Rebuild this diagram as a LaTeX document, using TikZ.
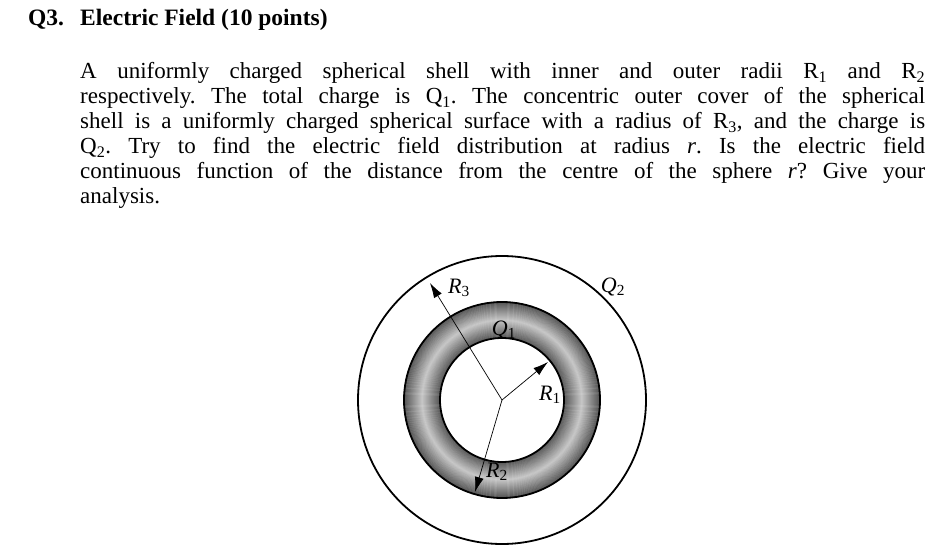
\documentclass[tikz,border=0pt]{standalone}
\usepackage{fontspec}
\setmainfont{Liberation Serif}
\usetikzlibrary{arrows.meta}
\newcommand{\jline}[1]{\makebox[845pt][s]{#1}\\}
\begin{document}
\frenchspacing
\begin{tikzpicture}[x=1pt,y=-1pt,
  lbl/.style={font=\fontsize{22}{22}\selectfont\itshape, inner sep=0pt},
  rad/.style={line width=0.7pt,-{Latex[length=15pt,width=9pt]}},
  circ/.style={line width=1.8pt}]
\useasboundingbox (0,0) rectangle (929,548);
\node[anchor=base west, inner sep=0pt, font=\fontsize{23.5}{24}\selectfont\bfseries] (q) at (28,26) {Q3.};
\node[anchor=base west, inner sep=0pt, font=\fontsize{23.5}{24}\selectfont\bfseries] (t) at (80,26) {Electric Field (10 points)};
\node[anchor=north west, inner sep=0pt, align=left, font=\fontsize{23}{25}\selectfont] (p) at (80,62)
{\jline{A uniformly charged spherical shell with inner and outer radii R\textsubscript{1} and R\textsubscript{2}}
\jline{respectively. The total charge is Q\textsubscript{1}. The concentric outer cover of the spherical}
\jline{shell is a uniformly charged spherical surface with a radius of R\textsubscript{3}, and the charge is}
\jline{Q\textsubscript{2}. Try to find the electric field distribution at radius \textit{r}. Is the electric field}
\jline{continuous function of the distance from the centre of the sphere \textit{r}? Give your}
analysis.};
\coordinate (o) at (502,400);
\foreach \r in {62,62.5,...,98}{
  \pgfmathsetmacro{\c}{22+45*abs(\r-80)/18}
  \draw[line width=0.8pt, black!\c] (o) circle (\r);
}
\draw[circ] (o) circle (144);
\draw[circ] (o) circle (98);
\draw[circ] (o) circle (62);
\draw[rad] (o) -- (430,283);
\draw[rad] (o) -- (548,362);
\draw[rad] (o) -- (475,492);
\node[lbl] (r3) at (459,288) {R\textsubscript{\upshape 3}};
\node[lbl] (q2) at (613,287) {Q\textsubscript{\upshape 2}};
\node[lbl] (q1) at (504,330) {Q\textsubscript{\upshape 1}};
\node[lbl] (r1) at (550,395) {R\textsubscript{\upshape 1}};
\node[lbl] (r2) at (497,472) {R\textsubscript{\upshape 2}};
\end{tikzpicture}
\end{document}
